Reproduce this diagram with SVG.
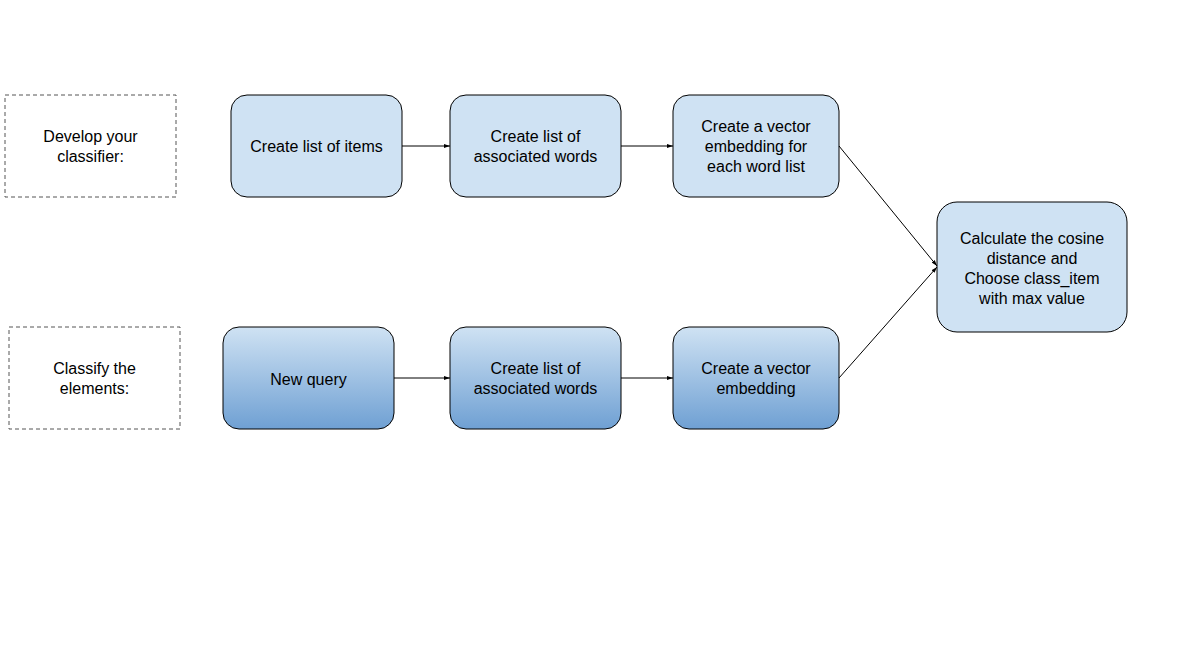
<svg xmlns="http://www.w3.org/2000/svg" width="1200" height="653" viewBox="0 0 1200 653">
<style>
text{font-family:"Liberation Sans",Arial,sans-serif;font-size:16px;fill:#000;text-anchor:middle}
.d{fill:#fff;stroke:#555;stroke-width:1;stroke-dasharray:4,3}
.l{fill:#cfe2f3;stroke:#000;stroke-width:1}
.g{fill:url(#gr);stroke:#000;stroke-width:1}
.c{stroke:#000;stroke-width:1;fill:none;marker-end:url(#ah)}
</style>
<defs>
<linearGradient id="gr" x1="0" y1="0" x2="0" y2="1"><stop offset="0" stop-color="#cfe2f3"/><stop offset="1" stop-color="#6fa0d3"/></linearGradient>
<marker id="ah" markerWidth="6" markerHeight="6" refX="6" refY="3" orient="auto" markerUnits="userSpaceOnUse"><path d="M0,1 L6,3 L0,5 z" fill="#000"/></marker>
</defs>
<rect width="1200" height="653" fill="#fff"/>
<g id="n1"><rect class="d" x="5" y="95" width="171" height="102"/><text x="90.5" y="142">Develop your</text><text x="90.5" y="162">classifier:</text></g>
<g id="n2"><rect class="d" x="9" y="327" width="171" height="102"/><text x="94.5" y="374">Classify the</text><text x="94.5" y="394">elements:</text></g>
<g id="n3"><rect class="l" x="231" y="95" width="171" height="102" rx="16"/><text x="316.5" y="152">Create list of items</text></g>
<g id="n4"><rect class="l" x="450" y="95" width="171" height="102" rx="16"/><text x="535.5" y="142">Create list of</text><text x="535.5" y="162">associated words</text></g>
<g id="n5"><rect class="l" x="673" y="95" width="166" height="102" rx="16"/><text x="756" y="132">Create a vector</text><text x="756" y="152">embedding for</text><text x="756" y="172">each word list</text></g>
<g id="n6"><rect class="g" x="223" y="327" width="171" height="102" rx="16"/><text x="308.5" y="385">New query</text></g>
<g id="n7"><rect class="g" x="450" y="327" width="171" height="102" rx="16"/><text x="535.5" y="374">Create list of</text><text x="535.5" y="394">associated words</text></g>
<g id="n8"><rect class="g" x="673" y="327" width="166" height="102" rx="16"/><text x="756" y="374">Create a vector</text><text x="756" y="394">embedding</text></g>
<g id="n9"><rect class="l" x="937" y="202" width="190" height="130" rx="20"/><text x="1032" y="244">Calculate the cosine</text><text x="1032" y="264">distance and</text><text x="1032" y="284">Choose class_item</text><text x="1032" y="304">with max value</text></g>
<g id="connectors">
<line class="c" x1="402" y1="146" x2="450" y2="146"/>
<line class="c" x1="621" y1="146" x2="673" y2="146"/>
<line class="c" x1="394" y1="378" x2="450" y2="378"/>
<line class="c" x1="621" y1="378" x2="673" y2="378"/>
<line class="c" x1="839" y1="146" x2="937" y2="266"/>
<line class="c" x1="839" y1="378" x2="937" y2="267"/>
</g>
</svg>
